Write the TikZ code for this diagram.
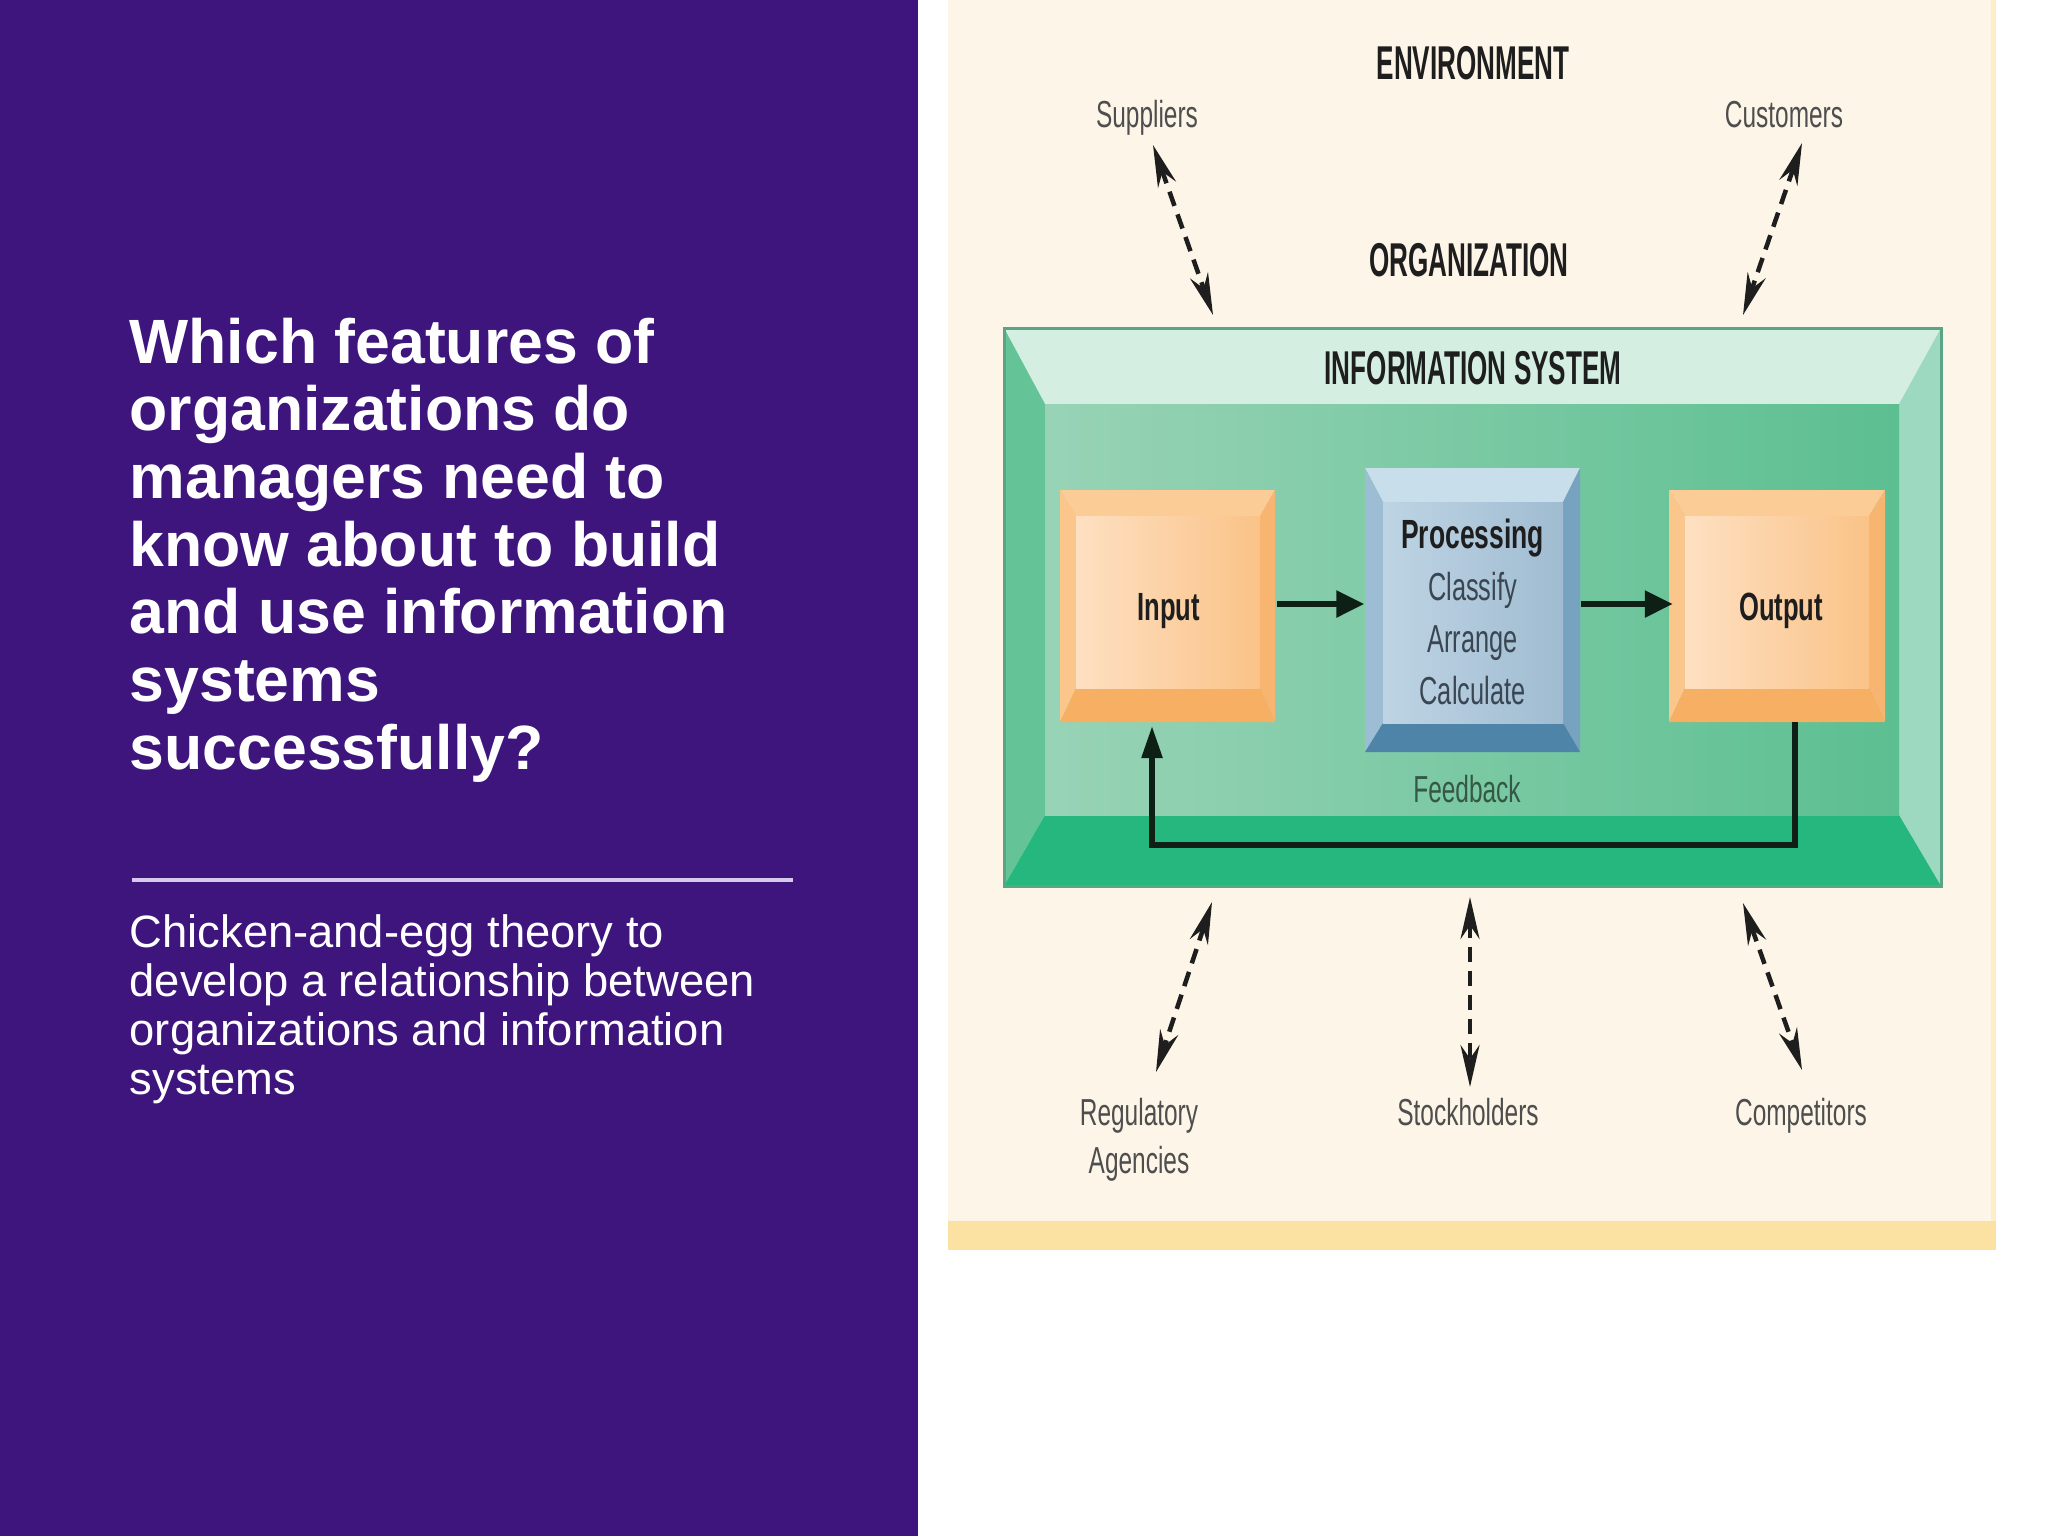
\documentclass[tikz,border=0pt]{standalone}
\usepackage{fontspec}
\setmainfont{Liberation Sans}
\newfontfamily\condfont[FakeStretch=0.65]{Liberation Sans}
\newfontfamily\envfont[FakeStretch=0.55]{Liberation Sans}
\usetikzlibrary{arrows.meta}

\definecolor{slide}{RGB}{62,21,124}
\definecolor{rulecol}{RGB}{214,202,236}
\definecolor{paper}{RGB}{253,245,231}
\definecolor{paperEdge}{RGB}{251,226,162}
\definecolor{ink}{RGB}{30,30,30}
\definecolor{grayInk}{RGB}{78,78,78}
\definecolor{prInk}{RGB}{58,70,82}
\definecolor{fbInk}{RGB}{52,88,68}
\definecolor{arrowInk}{RGB}{14,32,22}
% information system frame
\definecolor{isTop}{RGB}{212,238,226}
\definecolor{isLeft}{RGB}{100,196,152}
\definecolor{isRight}{RGB}{157,217,192}
\definecolor{isBot}{RGB}{37,183,126}
\definecolor{isFaceA}{RGB}{152,211,182}
\definecolor{isFaceB}{RGB}{92,191,145}
\definecolor{isLine}{RGB}{90,165,133}
% input / output
\definecolor{ioTop}{RGB}{252,204,151}
\definecolor{ioLeft}{RGB}{251,198,140}
\definecolor{ioRight}{RGB}{248,181,114}
\definecolor{ioBot}{RGB}{247,175,99}
\definecolor{ioFaceA}{RGB}{254,224,194}
\definecolor{ioFaceB}{RGB}{250,195,136}
% processing
\definecolor{prTop}{RGB}{201,222,235}
\definecolor{prLeft}{RGB}{156,189,211}
\definecolor{prRight}{RGB}{119,162,192}
\definecolor{prBot}{RGB}{78,132,168}
\definecolor{prFaceA}{RGB}{190,212,228}
\definecolor{prFaceB}{RGB}{160,188,209}

% outer box, inner face, colour prefix
\newcommand\bevelbox[9]{%
  \fill[#9Top] (#1,#2) -- (#3,#2) -- (#7,#6) -- (#5,#6) -- cycle;
  \fill[#9Left] (#1,#2) -- (#5,#6) -- (#5,#8) -- (#1,#4) -- cycle;
  \fill[#9Right] (#3,#2) -- (#3,#4) -- (#7,#8) -- (#7,#6) -- cycle;
  \fill[#9Bot] (#1,#4) -- (#5,#8) -- (#7,#8) -- (#3,#4) -- cycle;
  \shade[left color=#9FaceA,right color=#9FaceB] (#5,#6) rectangle (#7,#8);
}

\begin{document}
\begin{tikzpicture}[x=0.1mm,y=-0.1mm,
  headline/.style={text=white,font=\bfseries\fontsize{17.8}{19.4}\selectfont,anchor=base west,inner sep=0},
  subline/.style={text=white,font=\fontsize{12.9}{14}\selectfont,anchor=base west,inner sep=0},
  envlabel/.style={text=ink,font=\envfont\bfseries\fontsize{13.5}{16}\selectfont,inner sep=0},
  party/.style={text=grayInk,font=\condfont\fontsize{10.7}{13.7}\selectfont,inner sep=0,align=center},
  iobox/.style={minimum width=21.5mm,minimum height=23.2mm,inner sep=0,text height=11.4pt,text depth=2.3pt,text=ink,font=\condfont\bfseries\fontsize{11.2}{13}\selectfont},
  partylink/.style={{Stealth[length=4.2mm,width=1.9mm]}-{Stealth[length=4.2mm,width=1.9mm]},line width=0.45mm,dash pattern=on 1.5mm off 0.9mm,draw=ink},
  ioarrow/.style={-{Triangle[length=2.8mm,width=2.6mm]},line width=0.55mm,draw=arrowInk},
  fbline/.style={-{Triangle[length=3.2mm,width=2mm]},line width=0.55mm,draw=arrowInk}]
\useasboundingbox (0,0) rectangle (2048,1536);
% slide
\fill[white] (0,0) rectangle (2048,1536);
\fill[slide] (0,0) rectangle (918,1536);
\foreach \t [count=\i] in {Which features of,organizations do,managers need to,know about to build,and use information,systems,successfully?}
  \node[headline] (head\i) at (129,{363+67.7*(\i-1)}) {\t};
\draw[rulecol,line width=0.4mm] (132,880) -- (793,880);
\foreach \t [count=\i] in {Chicken-and-egg theory to,develop a relationship between,organizations and information,systems}
  \node[subline] (sub\i) at (129,{947+49*(\i-1)}) {\t};
% diagram
\fill[paper] (948,0) rectangle (1996,1250);
\fill[paperEdge] (948,1221) rectangle (1996,1250);
\fill[paperEdge!60] (1991,0) rectangle (1996,1221);
\bevelbox{1004}{328}{1941}{886}{1045}{404}{1899}{815}{is}
\draw[isLine,line width=0.3mm] (1004,328) rectangle (1941,886);
\bevelbox{1060}{490}{1275}{722}{1076}{516}{1260}{688}{io}
\bevelbox{1669}{490}{1885}{722}{1685}{516}{1869}{688}{io}
\bevelbox{1365}{468}{1580}{752}{1383}{502}{1563}{723}{pr}
\node[envlabel] (env) at (1473,63) {ENVIRONMENT};
\node[envlabel] (org) at (1469,260) {ORGANIZATION};
\node[envlabel] (islabel) at (1473,368) {INFORMATION SYSTEM};
\node[iobox] (input) at (1168.5,604) {Input};
\node[iobox] (output) at (1781,604) {Output};
\node[iobox,minimum height=28.4mm,align=center,text height=,text depth=,text=prInk,font=\condfont\fontsize{11.1}{14.8}\selectfont] (proc) at (1472.5,612) {{\bfseries\fontsize{11.6}{14.8}\selectfont\color{ink}Processing}\\Classify\\Arrange\\Calculate};
\node[party,text=fbInk,anchor=base] (fb) at (1467,802) {Feedback};
\draw[ioarrow] (input.east) -- (input.east -| proc.west);
\draw[ioarrow] (proc.east |- output.west) -- (output.west);
\coordinate (fbout) at (1795,722);
\coordinate (fbin) at (1152,726);
\draw[fbline] (fbout) -- ++(0,123) -| (fbin);
% environment
\node[party,anchor=base] (sup) at (1147,127) {Suppliers};
\node[party,anchor=base] (cus) at (1784,127) {Customers};
\node[party] (reg) at (1139,1140) {Regulatory\\Agencies};
\node[party,anchor=base] (stk) at (1468,1125) {Stockholders};
\node[party,anchor=base] (cmp) at (1801,1125) {Competitors};
\foreach \n/\ax/\ay/\bx/\by in {sup/1153/145/1213/315,cus/1802/143/1743/315,reg/1212/902/1156/1072,stk/1470/897/1470/1087,cmp/1743/903/1802/1070}{
  \coordinate (\n-a) at (\ax,\ay);
  \coordinate (\n-b) at (\bx,\by);
  \draw[partylink] (\n-a) -- (\n-b);
}
\end{tikzpicture}
\end{document}
